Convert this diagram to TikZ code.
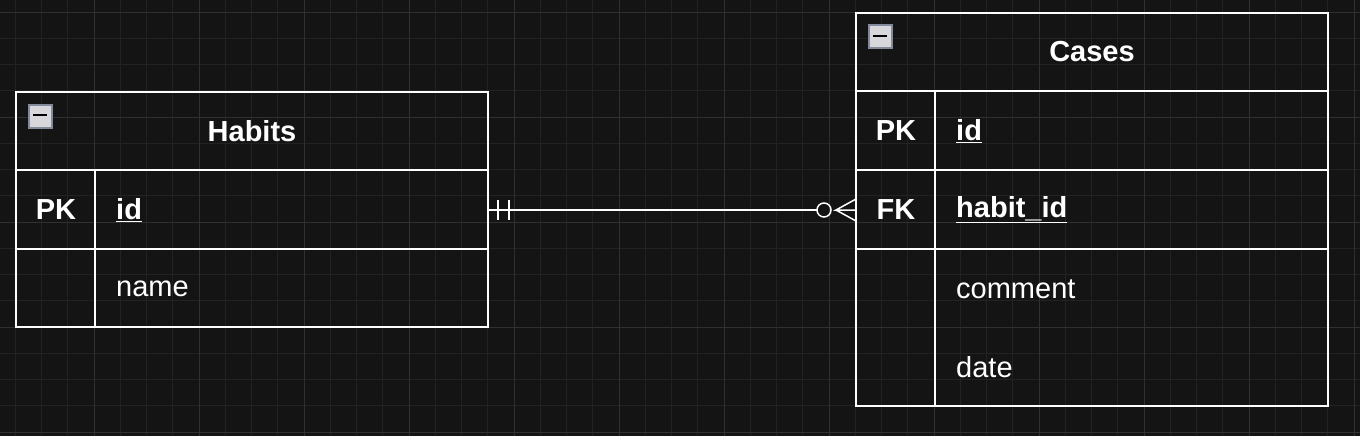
\documentclass[tikz,border=0pt]{standalone}
\usepackage{fontspec}
\setmainfont{Liberation Sans}
\begin{document}
\begin{tikzpicture}[x=1pt,y=-1pt,
  box/.style={draw=white,line width=1.6pt},
  txt/.style={text=white,font=\fontsize{29}{34}\selectfont,anchor=west,inner sep=0},
  hdr/.style={text=white,font=\bfseries\fontsize{29}{34}\selectfont,inner sep=0},
  icon/.style={draw={rgb,255:red,130;green,138;blue,155},fill={rgb,255:red,215;green,215;blue,220},line width=2pt,minimum size=23pt,inner sep=0}]
\fill[fill={rgb,255:red,20;green,20;blue,20}] (0,0) rectangle (1360,436);
\useasboundingbox (0,0) rectangle (1360,436);
\foreach \x in {15.25,41.5,...,1360} \draw[color={rgb,255:red,34;green,34;blue,34},line width=0.8pt] (\x,0) -- (\x,436);
\foreach \y in {0,26.25,...,436} \draw[color={rgb,255:red,34;green,34;blue,34},line width=0.8pt] (0,\y+12) -- (1360,\y+12);
\foreach \x in {94,199,...,1360} \draw[color={rgb,255:red,48;green,48;blue,48},line width=0.8pt] (\x,0) -- (\x,436);
\foreach \y in {12,117,...,436} \draw[color={rgb,255:red,48;green,48;blue,48},line width=0.8pt] (0,\y) -- (1360,\y);
% Habits
\draw[box] (16,92) rectangle (488,327);
\draw[box] (16,170) -- (488,170) (16,249) -- (488,249) (95,170) -- (95,327);
\node[icon] (hicon) at (40,116) {};
\draw[black,line width=2.5pt] (33,115) -- (47,115);
\node[hdr] (htitle) at (252,131) {Habits};
\node[hdr] (hpk) at (56,210) {PK};
\node[txt] (hid) at (116,210) {\textbf{\underline{id}}};
\node[txt] (hname) at (116,289) {name};
% Cases
\draw[box] (856,13) rectangle (1328,406);
\draw[box] (856,91) -- (1328,91) (856,170) -- (1328,170) (856,249) -- (1328,249) (935,91) -- (935,406);
\node[icon] (cicon) at (880,37) {};
\draw[black,line width=2.5pt] (873,36) -- (887,36);
\node[hdr] (ctitle) at (1092,52) {Cases};
\node[hdr] (cpk) at (896,131) {PK};
\node[txt] (cid) at (956,131) {\textbf{\underline{id}}};
\node[hdr] (cfk) at (896,210) {FK};
\node[txt] (chid) at (956,210) {\textbf{\underline{habit\_id}}};
\node[txt] (ccom) at (956,289) {comment};
\node[txt] (cdate) at (956,367) {date};
% connector
\coordinate (a) at (488,210);
\coordinate (b) at (856,210);
\draw[white,line width=1.5pt] (a) -- (817,210);
\draw[white,line width=1.5pt] (498,200) -- (498,220) (509,200) -- (509,220);
\draw[white,line width=1.5pt] (824,210) circle (7);
\draw[white,line width=1.5pt] (856,199) -- (836,210) -- (b) (836,210) -- (856,221);
\end{tikzpicture}
\end{document}
